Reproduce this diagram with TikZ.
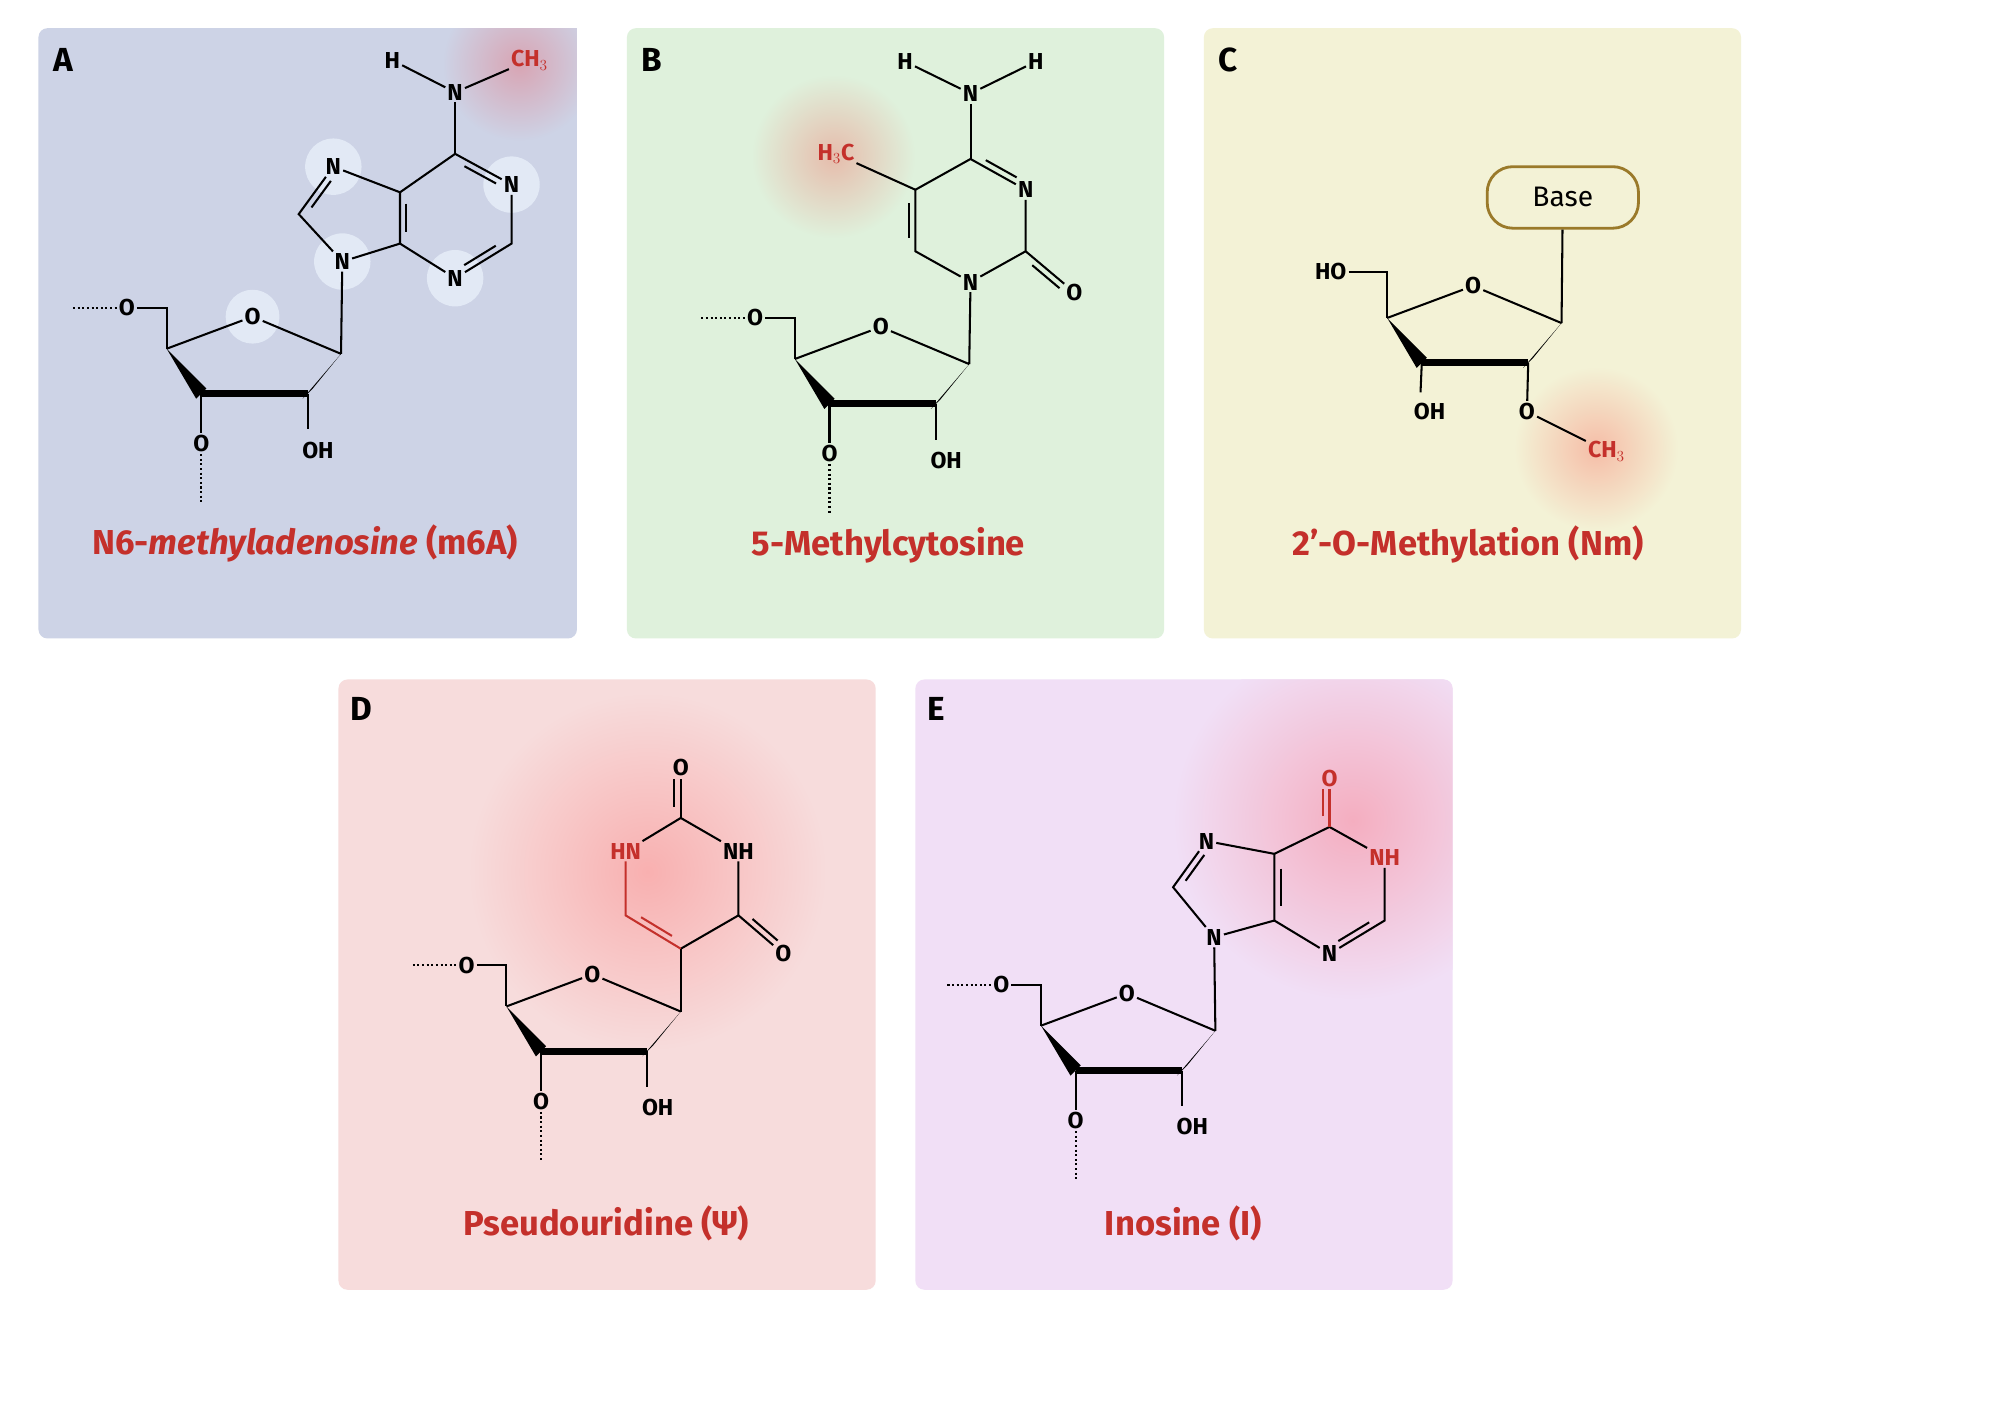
\documentclass[tikz,border=0pt]{standalone}
\usepackage{fontspec}
\setmainfont{Fira Sans}
\usetikzlibrary{calc}
\definecolor{bgA}{HTML}{CDD3E6}
\definecolor{bgB}{HTML}{DFF1DC}
\definecolor{bgC}{HTML}{F3F2D6}
\definecolor{bgD}{HTML}{F7DCDC}
\definecolor{bgE}{HTML}{F1DFF6}
\definecolor{tred}{HTML}{C4302B}
\definecolor{gold}{HTML}{9A7A2A}
\definecolor{hl}{HTML}{E2E9F5}
\tikzset{
 atom/.style={font=\fontsize{18}{20}\selectfont\bfseries, inner sep=1.5pt, text=black},
 ratom/.style={atom, text=tred},
 bond/.style={line width=1.6pt},
 dots/.style={line width=1.6pt, dash pattern=on 1.6pt off 2pt},
 panel/.style={rounded corners=7pt, draw=none},
 title/.style={font=\fontsize{27}{30}\selectfont\bfseries, text=tred},
 letter/.style={font=\fontsize{26}{28}\selectfont\bfseries, anchor=west},
 hlc/.style={fill=hl, draw=none}
}
\newcommand\dbl[3]{\draw[bond,#3] ($(#1)!.22!(#2)!5pt!90:(#2)$) -- ($(#1)!.78!(#2)!5pt!90:(#2)$);}
\newcommand\dblr[3]{\draw[bond,#3] ($(#1)!.22!(#2)!5pt!-90:(#2)$) -- ($(#1)!.78!(#2)!5pt!-90:(#2)$);}
\newcommand\sugar[3]{%
\begin{scope}[shift={(#2,#3)}]
 \coordinate (#1c4) at (0,0); \node[atom] (#1o4) at (67,-25) {O};
 \coordinate (#1c1) at (136,4); \coordinate (#1c2) at (110,35); \coordinate (#1c3) at (27,35);
 \draw[bond] (#1c4)--(#1o4)--(#1c1);
 \fill (#1c4) -- (31,31) -- (23,39) -- cycle;
 \draw[line width=5.5pt] (27,35)--(110,35);
 \fill (#1c1) -- (114,31) -- (106,39) -- cycle;
\end{scope}}
\newcommand\sugarsubs[3]{%
\begin{scope}[shift={(#2,#3)}]
 \node[atom] (#1o5) at (-31,-32) {O};
 \coordinate (#1c5) at (0,-32);
 \draw[bond] (#1o5) -- (#1c5) -- (#1c4);
 \coordinate (#1d1) at (-73,-32);
 \draw[dots] (#1d1) -- (#1o5);
 \node[atom] (#1o3) at (27,74) {O};
 \draw[bond] (#1c3) -- (#1o3);
 \coordinate (#1d2) at (27,120);
 \draw[dots] (#1o3) -- (#1d2);
 \node[atom] (#1oh) at (118,79) {OH};
 \coordinate (#1c2b) at (110,63);
 \draw[bond] (#1c2) -- (#1c2b);
\end{scope}}
\begin{document}
\begin{tikzpicture}[x=1pt,y=-1pt]
\useasboundingbox (0,0) rectangle (1560,1092);
\fill[white] (0,0) rectangle (1560,1092);
% panels
\fill[panel,bgA] (30,22) rectangle (450,498);
\fill[panel,bgB] (489,22) rectangle (908,498);
\fill[panel,bgC] (939,22) rectangle (1358,498);
\fill[panel,bgD] (264,530) rectangle (683,1006);
\fill[panel,bgE] (714,530) rectangle (1133,1006);
\node[letter] (la) at (38,47) {A};
\node[letter] (lb) at (497,47) {B};
\node[letter] (lc) at (947,47) {C};
\node[letter] (ld) at (270,553) {D};
\node[letter] (le) at (720,553) {E};
% glows
\begin{scope}
\clip (30,22) rectangle (450,498);
\shade[inner color=red!22!bgA, outer color=bgA] (405,50) circle (60);
\end{scope}
\shade[inner color=red!22!bgB, outer color=bgB] (650,122) circle (64);
\shade[inner color=red!22!bgC, outer color=bgC] (1245,350) circle (64);
\shade[inner color=red!20!bgD, outer color=bgD] (505,680) circle (140);
\begin{scope}
\clip[rounded corners=7pt] (714,530) rectangle (1133,1006);
\shade[inner color=red!22!bgE, outer color=bgE] (1055,640) circle (140);
\end{scope}
% ===== A =====
\fill[hlc] (197,247) circle (21);
\foreach \p in {(260,130),(399,144),(267,204),(355,217)} \fill[hlc] \p circle (22);
\sugar{a}{130}{272}
\sugarsubs{a}{130}{272}
\node[atom] (an7) at (260,130) {N};
\coordinate (ac8) at (233,167);
\node[atom] (an9) at (267,204) {N};
\coordinate (ac4) at (312,190);
\coordinate (ac5) at (312,150);
\coordinate (ac6) at (355,120);
\node[atom] (an1) at (399,144) {N};
\coordinate (ac2) at (399,190);
\node[atom] (an3) at (355,217) {N};
\node[atom] (an6) at (355,72) {N};
\node[atom] (ah) at (306,47) {H};
\node[ratom] (ame) at (413,47) {CH$_3$};
\draw[bond] (an7)--(ac8)--(an9)--(ac4)--(ac5)--(an7);
\draw[bond] (ac5)--(ac6)--(an1)--(ac2)--(an3)--(ac4);
\draw[bond] (ac6)--(an6); \draw[bond] (an6)--(ah); \draw[bond] (an6)--(ame);
\draw[bond] (ac1)--(an9);
\dblr{ac8}{an7}{}
\dbl{ac5}{ac4}{}
\dblr{ac6}{an1}{}
\dblr{ac2}{an3}{}
\node[title] (ta) at (238,424) {N6-\textit{methyladenosine} (m6A)};
% ===== B =====
\sugar{b}{620}{280}
\sugarsubs{b}{620}{280}
\node[atom] (bn1) at (757,220) {N};
\coordinate (bc2) at (800,196);
\node[atom] (bo2) at (838,228) {O};
\node[atom] (bn3) at (800,148) {N};
\coordinate (bc4) at (757,124);
\node[atom] (bn4) at (757,73) {N};
\node[atom] (bh1) at (706,48) {H};
\node[atom] (bh2) at (808,48) {H};
\coordinate (bc5) at (714,148);
\coordinate (bc6) at (714,196);
\node[ratom] (bme) at (652,120) {H$_3$C};
\draw[bond] (bn1)--(bc2)--(bn3)--(bc4)--(bc5)--(bc6)--(bn1);
\draw[bond] (bc2)--(bo2); \draw[bond] (bc4)--(bn4); \draw[bond] (bn4)--(bh1); \draw[bond] (bn4)--(bh2);
\draw[bond] (bc5)--(bme); \draw[bond] (bc1)--(bn1);
\dblr{bc5}{bc6}{}
\dbl{bc4}{bn3}{}
\dblr{bc2}{bo2}{}
\node[title] (tb) at (693,425) {5-Methylcytosine};
% ===== C =====
\sugar{c}{1082}{248}
\node[atom] (cho) at (1038,212) {HO};
\coordinate (cc5) at (1082,212);
\draw[bond] (cho)--(cc5)--(cc4);
\node[atom] (coh) at (1115,321) {OH};
\coordinate (cc3b) at (1108,306);
\draw[bond] (cc3)--(cc3b);
\node[atom] (co2) at (1191,321) {O};
\draw[bond] (cc2)--(co2);
\node[ratom] (cme) at (1253,352) {CH$_3$};
\draw[bond] (co2)--(cme);
\node[draw=gold, line width=2.2pt, rounded corners=20pt, minimum width=118pt, minimum height=48pt, font=\fontsize{22}{24}\selectfont] (base) at (1219,154) {Base};
\draw[bond] (cc1)--(base);
\node[title] (tc) at (1145,425) {2'-O-Methylation (Nm)};
% ===== D =====
\sugar{d}{395}{785}
\sugarsubs{d}{395}{785}
\coordinate (dc5) at (531,740);
\coordinate (dc4) at (576,714);
\node[atom] (dn3) at (576,664) {NH};
\coordinate (dc2) at (531,638);
\node[ratom] (dn1) at (488,664) {HN};
\coordinate (dc6) at (488,714);
\node[atom] (do2) at (531,599) {O};
\node[atom] (do4) at (611,744) {O};
\draw[bond] (dc5)--(dc4)--(dn3)--(dc2)--(dn1);
\draw[bond,tred] (dn1)--(dc6)--(dc5);
\draw[bond] (dc2)--(do2); \draw[bond] (dc4)--(do4); \draw[bond] (dc1)--(dc5);
\dbl{dc6}{dc5}{tred}
\dbl{dc2}{do2}{}
\dbl{dc4}{do4}{}
\node[title] (td) at (473,954) {Pseudouridine (Ψ)};
% ===== E =====
\sugar{e}{812}{800}
\sugarsubs{e}{812}{800}
\node[atom] (en7) at (941,656) {N};
\coordinate (ec8) at (915,692);
\node[atom] (en9) at (947,731) {N};
\coordinate (ec4) at (994,718);
\coordinate (ec5) at (994,666);
\coordinate (ec6) at (1037,645);
\node[ratom] (eo6) at (1037,607) {O};
\node[ratom] (en1) at (1080,669) {NH};
\coordinate (ec2) at (1080,718);
\node[atom] (en3) at (1037,744) {N};
\draw[bond] (en7)--(ec8)--(en9)--(ec4)--(ec5)--(en7);
\draw[bond] (ec5)--(ec6)--(en1)--(ec2)--(en3)--(ec4);
\draw[bond,tred] (ec6)--(eo6);
\draw[bond] (ec1)--(en9);
\dblr{ec8}{en7}{}
\dbl{ec5}{ec4}{}
\dbl{ec6}{eo6}{tred}
\dblr{ec2}{en3}{}
\node[title] (te) at (923,954) {Inosine (I)};
\end{tikzpicture}
\end{document}
